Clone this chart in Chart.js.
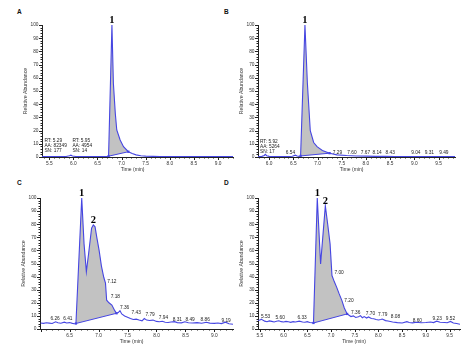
<!DOCTYPE html>
<html>
<head>
<meta charset="utf-8">
<script src="https://cdn.jsdelivr.net/npm/chart.js@4.4.1/dist/chart.umd.min.js"></script>
<style>
  body { margin: 0; background: #fff; width: 474px; height: 354px; position: relative; overflow: hidden; font-family: "Liberation Sans", Arial, sans-serif; }
  canvas { position: absolute; }
  .tag { position: absolute; font-weight: bold; font-size: 6.5px; line-height: 6px; color: #111; }
</style>
</head>
<body>
<div class="tag" style="left:17px;top:9px">A</div>
<div class="tag" style="left:224px;top:9px">B</div>
<div class="tag" style="left:17px;top:180px">C</div>
<div class="tag" style="left:224px;top:180px">D</div>
<canvas id="chartA" width="237" height="177" style="left:0;top:0"></canvas>
<canvas id="chartB" width="237" height="177" style="left:237px;top:0"></canvas>
<canvas id="chartC" width="237" height="177" style="left:0;top:177px"></canvas>
<canvas id="chartD" width="237" height="177" style="left:237px;top:177px"></canvas>
<script>
// ---- panel A ----
const timeA = [5.35, 5.45, 5.55, 5.65, 5.75, 5.85, 5.92, 5.95, 5.98, 6.05,
               6.15, 6.25, 6.35, 6.45, 6.55, 6.65, 6.70, 6.73, 6.80, 6.83,
               6.87, 6.90, 6.97, 7.04, 7.14, 7.22, 7.30, 7.40, 7.50, 7.65,
               7.80, 8.00, 8.20, 8.40, 8.60, 8.80, 9.00, 9.20, 9.31];
const abundA = [0.4, 0.3, 0.4, 0.3, 0.3, 0.4, 0.9, 1.4, 0.8, 0.4,
                0.3, 0.4, 0.3, 0.3, 0.4, 0.3, 0.4, 0.6, 100, 55.8,
                33, 20.5, 12.9, 7.8, 4, 2.6, 1.6, 1.0, 0.7, 0.5,
                0.4, 0.3, 0.4, 0.3, 0.3, 0.4, 0.3, 0.3, 0.3];
const ticksA = [5.5, 6.0, 6.5, 7.0, 7.5, 8.0, 8.5, 9.0];
const baseA = [[6.73, 0.6], [7.14, 4]];
const peaksA = [[6.80, 100, '1']];
const rtA = [];
const infoA = [[5.40, 12.3, ['RT: 5.29', 'AA: 82349', 'SN: 177']],
               [5.98, 12.3, ['RT: 5.95', 'AA: 4954', 'SN: 14']]];

// ---- panel B ----
const timeB = [5.77, 5.85, 5.90, 5.92, 5.95, 6.00, 6.10, 6.20, 6.30, 6.40,
               6.48, 6.54, 6.58, 6.62, 6.65, 6.74, 6.79, 6.85, 6.92, 6.99,
               7.10, 7.25, 7.40, 7.60, 7.80, 8.00, 8.20, 8.40, 8.60, 8.80,
               9.00, 9.20, 9.40, 9.60, 9.84];
const abundB = [0.4, 0.5, 1.2, 2.0, 1.0, 0.5, 0.4, 0.3, 0.4, 0.3,
                0.6, 1.4, 0.7, 0.5, 0.8, 100, 56, 20, 11, 7.8,
                5, 2.9, 1.6, 1.1, 0.8, 0.7, 0.5, 0.5, 0.4, 0.4,
                0.3, 0.4, 0.3, 0.3, 0.3];
const ticksB = [6.0, 6.5, 7.0, 7.5, 8.0, 8.5, 9.0, 9.5];
const baseB = [[6.65, 0.8], [7.25, 2.9]];
const peaksB = [[6.74, 100, '1']];
const rtB = [[6.44, 3, '6.54'], [7.41, 3.3, '7.29'], [7.71, 3.3, '7.60'], [7.99, 3.3, '7.67'],
             [8.23, 3.3, '8.14'], [8.50, 3.3, '8.43'], [9.03, 3.3, '9.04'], [9.31, 3.3, '9.31'],
             [9.61, 3.3, '9.49']];
const infoB = [[5.81, 11.6, ['RT: 5.92', 'AA: 5264', 'SN: 17']]];

// ---- panel C ----
const timeC = [6.00, 6.05, 6.10, 6.15, 6.20, 6.26, 6.30, 6.35, 6.41, 6.45,
               6.50, 6.55, 6.58, 6.61, 6.71, 6.75, 6.79, 6.83, 6.88, 6.91,
               6.94, 6.97, 7.01, 7.05, 7.09, 7.12, 7.14, 7.18, 7.23, 7.28,
               7.31, 7.34, 7.37, 7.40, 7.45, 7.50, 7.55, 7.60, 7.65, 7.70,
               7.75, 7.79, 7.83, 7.88, 7.94, 8.00, 8.05, 8.10, 8.15, 8.20,
               8.25, 8.31, 8.36, 8.43, 8.49, 8.55, 8.62, 8.70, 8.78, 8.86,
               8.92, 9.00, 9.06, 9.12, 9.19, 9.25, 9.32];
const abundC = [4.6, 4.3, 4.8, 4.5, 4.2, 5.5, 4.8, 4.4, 5.2, 4.6,
                4.9, 4.3, 4.0, 4.2, 100, 65, 43.8, 58, 77, 79.5,
                78, 70, 60, 48, 39.5, 35, 22, 20, 18.3, 14,
                12, 12.5, 14, 11.5, 10, 9, 8, 7.3, 7.5, 6.8,
                6.2, 8, 6.8, 6.5, 6.8, 5.8, 5.5, 5.9, 5.2, 5.0,
                5.4, 5.6, 4.9, 4.7, 5.5, 4.8, 4.6, 4.9, 4.4, 5.1,
                4.5, 4.3, 4.6, 4.1, 5.2, 4.0, 3.6];
const ticksC = [6.5, 7.0, 7.5, 8.0, 8.5, 9.0];
const baseC = [[6.61, 4.2], [7.31, 12]];
const peaksC = [[6.71, 100, '1'], [6.91, 79.5, '2']];
const rtC = [[6.25, 7.6, '6.26'], [6.47, 7.6, '6.41'], [7.23, 36.4, '7.12'], [7.29, 25, '7.18'],
             [7.45, 16, '7.36'], [7.65, 12.7, '7.43'], [7.89, 10.7, '7.79'], [8.12, 9, '7.94'],
             [8.36, 6.9, '8.31'], [8.58, 6.9, '8.49'], [8.84, 6.9, '8.86'], [9.20, 6.4, '9.19']];
const infoC = [];

// ---- panel D ----
const timeD = [5.46, 5.50, 5.53, 5.57, 5.60, 5.65, 5.70, 5.75, 5.80, 5.85,
               5.90, 5.95, 6.00, 6.05, 6.10, 6.15, 6.20, 6.25, 6.33, 6.40,
               6.45, 6.50, 6.55, 6.60, 6.63, 6.71, 6.78, 6.88, 6.93, 6.98,
               7.02, 7.07, 7.12, 7.17, 7.23, 7.28, 7.34, 7.38, 7.42, 7.47,
               7.52, 7.58, 7.62, 7.66, 7.70, 7.75, 7.79, 7.85, 7.90, 7.95,
               8.00, 8.05, 8.08, 8.15, 8.20, 8.30, 8.40, 8.50, 8.60, 8.65,
               8.72, 8.80, 8.90, 9.00, 9.10, 9.16, 9.23, 9.30, 9.40, 9.45,
               9.52, 9.58, 9.65, 9.72];
const abundD = [6.5, 6.8, 7.5, 6.6, 6.0, 5.5, 6.2, 5.8, 5.4, 5.9,
                6.3, 5.6, 5.3, 5.8, 5.5, 5.1, 5.6, 5.3, 6.0, 5.4,
                5.2, 5.6, 5.0, 4.8, 4.6, 100, 49.6, 94, 80, 65,
                40.8, 36, 31.8, 27, 21.7, 16, 11.5, 10.5, 9.5, 10,
                8.8, 9.3, 10.2, 8.6, 9.5, 8.4, 9.2, 8.0, 7.8, 7.3,
                6.9, 7.2, 7.6, 6.4, 6.1, 5.4, 4.9, 4.6, 5.6, 5.0,
                4.7, 5.2, 4.8, 5.0, 5.3, 4.9, 6.0, 5.2, 5.0, 4.8,
                5.8, 4.6, 4.2, 3.6];
const ticksD = [5.5, 6.0, 6.5, 7.0, 7.5, 8.0, 8.5, 9.0, 9.5];
const baseD = [[6.63, 4.6], [7.34, 11.5]];
const peaksD = [[6.71, 100, '1'], [6.88, 94, '2']];
const rtD = [[5.62, 9.5, '5.53'], [5.93, 8.4, '5.60'], [6.39, 8.4, '6.33'], [7.17, 42.7, '7.00'],
             [7.38, 21.7, '7.20'], [7.52, 12.7, '7.36'], [7.83, 11.5, '7.70'], [8.09, 11, '7.79'],
             [8.36, 9.5, '8.08'], [8.82, 6.4, '8.60'], [9.24, 7.6, '9.23'], [9.52, 7.6, '9.52']];
const infoD = [];

const BLUE = '#4646e2';
const SANS = "'Liberation Sans', Arial, sans-serif";

// closed outline of the integrated area: curve between the two baseline points, back along the baseline
function peakShape(time, abund, base) {
  const s = base[0], e = base[1];
  const pts = [{x: s[0], y: s[1]}];
  time.forEach((t, i) => { if (t > s[0] && t < e[0]) pts.push({x: t, y: abund[i]}); });
  pts.push({x: e[0], y: e[1]}, {x: s[0], y: s[1]});
  return pts;
}

function textPlugin(p) {
  return {
    id: 'chromText',
    afterDraw(chart) {
      const ctx = chart.ctx, a = chart.chartArea;
      const xs = chart.scales.x, ys = chart.scales.y;
      ctx.save();
      // tick marks, major and minor
      ctx.strokeStyle = '#222';
      ctx.lineWidth = 1;
      ctx.beginPath();
      for (let k = Math.ceil(xs.min * 10); k <= Math.floor(xs.max * 10); k++) {
        const px = Math.round(xs.getPixelForValue(k / 10)) + 0.5;
        ctx.moveTo(px, a.bottom);
        ctx.lineTo(px, a.bottom + (k % 5 === 0 ? 3 : 1.5));
      }
      for (let v = 0; v <= 100; v += 2) {
        const py = Math.round(ys.getPixelForValue(v)) + 0.5;
        ctx.moveTo(a.left, py);
        ctx.lineTo(a.left - (v % 10 === 0 ? 3 : 1.5), py);
      }
      ctx.stroke();

      // axis titles
      ctx.fillStyle = '#333';
      ctx.textAlign = 'center';
      ctx.textBaseline = 'middle';
      ctx.font = '5px ' + SANS;
      ctx.fillText('Time (min)', (a.left + a.right) / 2 - 5, a.bottom + 12.5);
      ctx.save();
      ctx.translate(a.left - 16, (a.top + a.bottom) / 2);
      ctx.rotate(-Math.PI / 2);
      ctx.font = '5.2px ' + SANS;
      ctx.fillText('Relative Abundance', 0, 0);
      ctx.restore();

      // retention time labels
      ctx.font = '4.8px ' + SANS;
      ctx.fillStyle = '#222';
      p.rt.forEach(r => {
        ctx.fillText(r[2], xs.getPixelForValue(r[0]), ys.getPixelForValue(r[1]));
      });
      // peak info blocks
      ctx.textAlign = 'left';
      p.info.forEach(b => {
        const x0 = xs.getPixelForValue(b[0]), y0 = ys.getPixelForValue(b[1]);
        b[2].forEach((line, i) => ctx.fillText(line, x0, y0 + i * 4.9));
      });
      // peak numbers
      ctx.textAlign = 'center';
      ctx.textBaseline = 'alphabetic';
      ctx.fillStyle = '#000';
      ctx.font = "bold 10.5px 'Liberation Serif', 'Times New Roman', serif";
      p.peaks.forEach(pk => {
        ctx.fillText(pk[2], xs.getPixelForValue(pk[0]), ys.getPixelForValue(pk[1]) - 2);
      });
      ctx.restore();
    }
  };
}

function makePanel(id, p) {
  return new Chart(document.getElementById(id), {
    type: 'line',
    data: {
      datasets: [
        { data: p.time.map((t, i) => ({x: t, y: p.abund[i]})), borderColor: BLUE, borderWidth: 1.1,
          pointRadius: 0, fill: false, tension: 0 },
        { data: p.base.map(b => ({x: b[0], y: b[1]})), borderColor: BLUE, borderWidth: 1,
          pointRadius: 1.6, pointStyle: 'rect', pointBackgroundColor: BLUE, pointBorderWidth: 0, fill: false },
        { data: peakShape(p.time, p.abund, p.base), borderWidth: 0, pointRadius: 0,
          fill: 'shape', backgroundColor: '#c2c2c2', borderColor: 'rgba(0,0,0,0)' }
      ]
    },
    options: {
      responsive: false,
      animation: false,
      events: [],
      layout: { padding: { left: 0, top: p.top, right: p.right, bottom: 0 } },
      plugins: { legend: { display: false }, tooltip: { enabled: false } },
      scales: {
        x: {
          type: 'linear', min: p.xmin, max: p.xmax,
          grid: { display: false, drawTicks: false },
          border: { display: true, color: '#222', width: 1 },
          ticks: { autoSkip: false, maxRotation: 0, padding: 3.5, color: '#333',
                   font: { size: 4.8, family: SANS }, callback: v => v.toFixed(1) },
          afterBuildTicks: s => { s.ticks = p.ticks.map(v => ({value: v})); },
          afterFit: s => { s.height = p.xh; }
        },
        y: {
          type: 'linear', min: 0, max: 100,
          grid: { display: false, drawTicks: false },
          border: { display: true, color: '#222', width: 1 },
          ticks: { autoSkip: false, padding: 3.5, color: '#333',
                   font: { size: 4.8, family: SANS }, callback: v => String(v) },
          afterBuildTicks: s => { s.ticks = [0, 10, 20, 30, 40, 50, 60, 70, 80, 90, 100].map(v => ({value: v})); },
          afterFit: s => { s.width = p.yw; }
        }
      }
    },
    plugins: [textPlugin(p)]
  });
}

makePanel('chartA', { time: timeA, abund: abundA, ticks: ticksA, base: baseA, peaks: peaksA, rt: rtA, info: infoA,
  xmin: 5.35, xmax: 9.31, yw: 42, xh: 20, top: 25, right: 4 });
makePanel('chartB', { time: timeB, abund: abundB, ticks: ticksB, base: baseB, peaks: peaksB, rt: rtB, info: infoB,
  xmin: 5.77, xmax: 9.84, yw: 21, xh: 20, top: 25, right: 19 });
makePanel('chartC', { time: timeC, abund: abundC, ticks: ticksC, base: baseC, peaks: peaksC, rt: rtC, info: infoC,
  xmin: 5.99, xmax: 9.32, yw: 40, xh: 25, top: 21, right: 0 });
makePanel('chartD', { time: timeD, abund: abundD, ticks: ticksD, base: baseD, peaks: peaksD, rt: rtD, info: infoD,
  xmin: 5.46, xmax: 9.72, yw: 21, xh: 25, top: 21, right: 14 });
</script>
</body>
</html>
